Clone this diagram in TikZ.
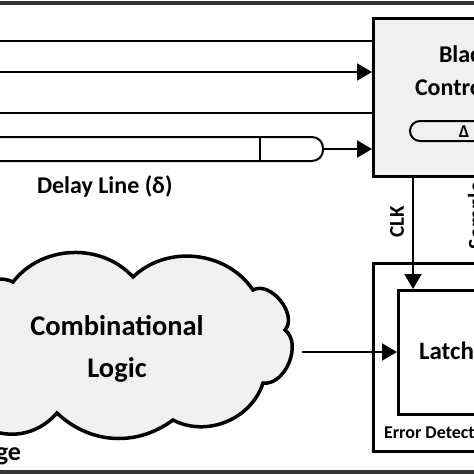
\documentclass[tikz,border=0pt]{standalone}
\usepackage{fontspec}
\setmainfont{Carlito}
\usepackage{xcolor}
\usetikzlibrary{arrows.meta,positioning}
\definecolor{boxgray}{gray}{0.94}
\definecolor{framegray}{gray}{0.2}

\begin{document}
\begin{tikzpicture}[x=1pt, y=-1pt, >={Triangle[length=15pt,width=17pt]}, line width=2pt,
  box/.style={draw, line width=2.6pt, inner sep=0pt},
  lbl/.style={font=\bfseries\fontsize{24}{28}\selectfont, inner sep=0pt},
  small/.style={font=\bfseries\fontsize{18}{22}\selectfont, inner sep=0pt}]
\useasboundingbox (0,0) rectangle (474,474);
\fill[white] (0,0) rectangle (474,474);
\draw[line width=4pt, framegray] (0,3) -- (474,3);
\draw[line width=4pt, framegray] (0,472) -- (474,472);

% controller and error detection
\node[box, fill=boxgray, minimum width=150pt, minimum height=158pt, anchor=north west] (ctrl) at (372,17) {};
\node[box, minimum width=150pt, minimum height=188pt, anchor=north west] (errdet) at (372,262) {};
\node[box, fill=white, minimum width=130pt, minimum height=124pt, anchor=north west] (latch) at (397,289) {};
\node[lbl, anchor=base west] at (438,62) {Black-Box};
\node[lbl, anchor=base west] at (414,95) {Controller};
\draw[rounded corners=10pt] (490,121) -- (410,121) -- (410,141) -- (490,141);
\node[small] (dlt) at (464,132) {Δ};
\node[lbl, anchor=base west, font=\bfseries\fontsize{25}{28}\selectfont] at (418,359) {Latch};
\node[small, anchor=base west] at (383,438) {Error Detection};

% inputs
\coordinate (in1) at (-5,41);
\coordinate (in2) at (-5,72);
\coordinate (in3) at (-5,113);
\draw (in1) -- (ctrl.west |- in1);
\draw[->] (in2) -- (ctrl.west |- in2);
\draw (in3) -- (in3 -| ctrl.west);

% delay line
\draw[rounded corners=11pt] (-10,137) -- (323,137) -- (323,161) -- (-10,161);
\draw (260,137) -- (260,161);
\coordinate (dout) at (323,149);
\draw[->] (dout) -- (ctrl.west |- dout);
\node[lbl, anchor=base west] at (36,193) {Delay Line (δ)};

% clock and sample
\coordinate (clkx) at (413,0);
\draw[->] (clkx |- ctrl.south) -- (clkx |- latch.north);
\node[lbl, rotate=90, font=\bfseries\fontsize{21}{24}\selectfont] at (397,222) {CLK};
\node[lbl, rotate=90, anchor=north west, font=\bfseries\fontsize{22}{24}\selectfont] at (467,250) {Sample};

% logic cloud
\draw[line width=3.5pt, fill=boxgray] (-20,290) to[bend left=40] (13,282) to[bend left=50] (133,277)
  to[bend left=50] (253,290) to[bend left=80] (285,330) to[bend left=75] (263,383)
  to[bend left=50] (173,420) to[bend left=40] (57,413) to[bend left=40] (-20,425) -- cycle;
\node[lbl, align=center, font=\bfseries\fontsize{28.5}{42}\selectfont] (logic) at (117,349) {Combinational\\Logic};
\coordinate (cloudR) at (302,352);
\draw[->] (cloudR) -- (latch.west |- cloudR);
\node[anchor=base east, inner sep=0pt, font=\bfseries\fontsize{26}{28}\selectfont] at (22,460) {Stage};
\end{tikzpicture}
\end{document}
